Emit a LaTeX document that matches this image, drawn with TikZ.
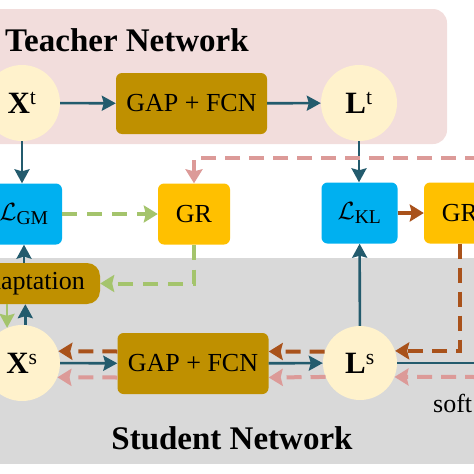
\documentclass[tikz,border=0pt]{standalone}
\usepackage{amsmath}
\usepackage{fontspec}
\setmainfont{Liberation Serif}
\usetikzlibrary{arrows.meta,positioning,calc}
\definecolor{ink}    {HTML}{111111}
\definecolor{tealLn} {HTML}{235B6D}
\definecolor{leafLn} {HTML}{A4C46C}
\definecolor{roseLn} {HTML}{DC9A98}
\definecolor{rustLn} {HTML}{A9521B}
\definecolor{pinkBg} {HTML}{F2DDDC}
\definecolor{greyBg} {HTML}{D9D9D9}
\definecolor{cream}  {HTML}{FFF2CC}
\definecolor{ochre}  {HTML}{BF9000}
\definecolor{skyBox} {HTML}{00B0F0}
\definecolor{goldBox}{HTML}{FFC000}

\begin{document}
\begin{tikzpicture}[x=1pt, y=-1pt,
  feat/.style={circle, fill=cream, minimum size=76pt, inner sep=0pt, font=\fontsize{31}{36}\selectfont},
  fcn/.style={rectangle, rounded corners=6pt, fill=ochre, minimum width=151pt, minimum height=61pt, font=\fontsize{26}{30}\selectfont},
  lossbox/.style={rectangle, rounded corners=6pt, fill=skyBox, minimum width=76pt, minimum height=61pt, font=\fontsize{28}{32}\selectfont},
  grbox/.style={rectangle, rounded corners=6pt, fill=goldBox, minimum width=72pt, minimum height=61pt, font=\fontsize{26}{30}\selectfont},
  adaptbox/.style={rectangle, rounded corners=13pt, fill=ochre, minimum width=146pt, minimum height=41pt, inner sep=0pt, font=\fontsize{26}{30}\selectfont},
  title/.style={inner sep=0pt, font=\fontsize{33}{38}\selectfont\bfseries},
  fwd/.style={draw=tealLn, line width=2.6pt, -{Stealth[length=14pt,width=15pt,inset=2pt]}},
  leafdash/.style={draw=leafLn, line width=4pt, dash pattern=on 15pt off 10pt, -{Stealth[length=14pt,width=17pt,inset=2pt]}},
  rosedash/.style={draw=roseLn, line width=4pt, dash pattern=on 15pt off 9pt, -{Stealth[length=14pt,width=17pt,inset=2pt]}},
  rustdash/.style={draw=rustLn, line width=4pt, dash pattern=on 15pt off 9pt, -{Stealth[length=14pt,width=17pt,inset=2pt]}},
]
  \useasboundingbox (0,0) rectangle (474,474);
  \clip (0,0) rectangle (474,474);
  % network regions
  \fill[pinkBg, rounded corners=14pt] (-20,9) rectangle (447,144);
  \fill[greyBg] (-20,258) rectangle (490,464);
  \node[title, anchor=west] (teach) at (5,40) {Teacher Network};
  \node[title] (stud) at (232,438) {Student Network};
  % teacher row
  \node[feat] (xt) at (22,103) {\textbf{X}\textsuperscript{t}};
  \node[fcn] (gapt) at (191.5,103.5) {GAP + FCN};
  \node[feat] (lt) at (359,103) {\textbf{L}\textsuperscript{t}};
  % losses and GR
  \node[lossbox] (lgm) at (24,214) {$\mathcal{L}_{\text{GM}}$};
  \node[grbox] (gr1) at (194,214) {GR};
  \node[lossbox] (lkl) at (359.5,213) {$\mathcal{L}_{\text{KL}}$};
  \node[grbox] (gr2) at (460,213) {GR};
  \node[adaptbox] (adapt) at (27,283.5) {Adaptation};
  % student row
  \node[feat] (xs) at (22,363) {\textbf{X}\textsuperscript{s}};
  \node[fcn] (gaps) at (193,363.5) {GAP + FCN};
  \node[feat, minimum size=74pt] (ls) at (360,363) {\textbf{L}\textsuperscript{s}};
  \node[anchor=west, inner sep=0pt, font=\fontsize{26}{30}\selectfont] (soft) at (433,403) {soft};
  \coordinate (pinkin) at (480,158);
  \coordinate (tealout) at (480,363);
  \coordinate (roseout) at (480,377);

  \draw[fwd] (xt) -- (gapt);
  \draw[fwd] (gapt) -- (lt);
  \draw[fwd] (xt) -- (xt |- lgm.north);
  \draw[fwd] (lt) -- (lt |- lkl.north);
  \draw[leafdash] (lgm) -- (gr1);
  \draw[draw=rustLn, line width=4pt, -{Stealth[length=14pt,width=17pt,inset=2pt]}] (lkl) -- (gr2);
  \draw[rosedash] (pinkin) -| (gr1);
  \draw[leafdash] (gr1) |- (adapt);
  \draw[fwd] (adapt.north -| lgm.south) -- (lgm.south);
  \draw[draw=leafLn, line width=2.6pt, -{Stealth[length=14pt,width=15pt,inset=2pt]}] (adapt.south -| xs.113) -- (xs.113);
  \draw[fwd] (xs.85) -- (xs.85 |- adapt.south);
  \draw[fwd] (xs) -- (gaps);
  \draw[fwd] (gaps) -- (ls);
  \draw[rustdash] ([yshift=12pt]gaps.west) -- (xs.18);
  \draw[rustdash] (ls.162) -- ([yshift=12pt]gaps.east);
  \draw[rosedash] ([yshift=-14pt]gaps.west) -- (xs.-22);
  \draw[rosedash] (ls.-158) -- ([yshift=-14pt]gaps.east);
  \draw[rustdash] (gr2) |- (ls.19);
  \draw[tealLn, line width=2.6pt] (ls) -- (tealout);
  \draw[rosedash] (roseout) -- (ls.-22);
  \draw[fwd] (ls) -- (lkl);
\end{tikzpicture}
\end{document}
